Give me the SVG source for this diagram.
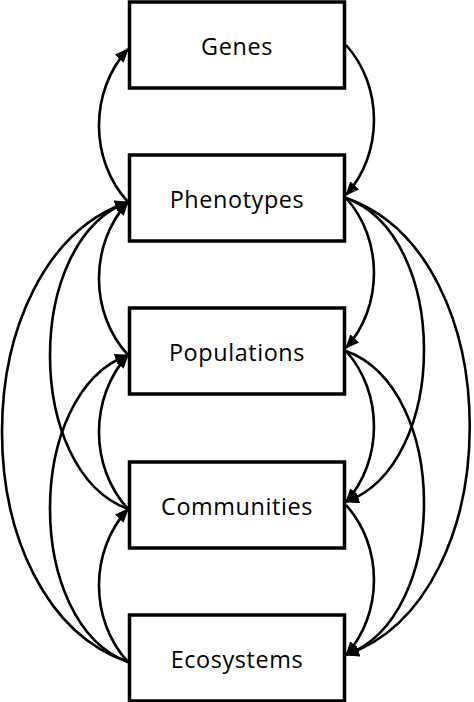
<svg xmlns="http://www.w3.org/2000/svg" width="474" height="702" viewBox="0 0 474 702">
<style>
  .box { fill: #ffffff; stroke: #000000; stroke-width: 3.5; }
  .lbl { font-family: "Open Sans", "Noto Sans", "Liberation Sans", sans-serif; font-size: 23.4px; letter-spacing: 0.6px; fill: #000000; text-anchor: middle; }
  .con { fill: none; stroke: #000000; stroke-width: 2.6; marker-end: url(#arrow); }
</style>
<defs>
  <marker id="arrow" markerUnits="userSpaceOnUse" markerWidth="14" markerHeight="12" viewBox="0 0 14 12" refX="13" refY="6" orient="auto">
    <path d="M0,0 L14,6 L0,12 z" fill="#000000"/>
  </marker>
</defs>
<rect width="474" height="702" fill="#ffffff"/>
<g id="connectors">
  <path class="con" d="M128,202 C89.3,159.9 89.3,91.1 128,49"/>
  <path class="con" d="M128,355 C89.3,312.9 89.3,244.1 128,202"/>
  <path class="con" d="M128,509 C89.3,466.7 89.3,397.3 128,355"/>
  <path class="con" d="M128,662 C89.3,619.9 89.3,551.1 128,509"/>
  <path class="con" d="M128,509 C24,470.6 24,240.4 128,202"/>
  <path class="con" d="M128,662 C24,623.6 24,393.4 128,355"/>
  <path class="con" d="M128,662 C-40,604.5 -40,259.5 128,202"/>
  <path class="con" d="M346,45 C383.3,86.25 383.3,153.75 346,195"/>
  <path class="con" d="M346,198 C383.3,239.25 383.3,306.75 346,348"/>
  <path class="con" d="M346,351 C383.3,392.5 383.3,460.5 346,502"/>
  <path class="con" d="M346,505 C383.3,546.25 383.3,613.75 346,655"/>
  <path class="con" d="M346,198 C450,236 450,464 346,502"/>
  <path class="con" d="M346,351 C450,389 450,617 346,655"/>
  <path class="con" d="M346,198 C511,255.1 511,597.9 346,655"/>
</g>
<g id="genes">
  <rect class="box" x="129.5" y="2" width="215" height="86"/>
  <text class="lbl" x="237" y="54.5">Genes</text>
</g>
<g id="phenotypes">
  <rect class="box" x="129.5" y="155" width="215" height="86"/>
  <text class="lbl" x="237" y="207.5">Phenotypes</text>
</g>
<g id="populations">
  <rect class="box" x="129.5" y="308" width="215" height="86"/>
  <text class="lbl" x="237" y="360.5">Populations</text>
</g>
<g id="communities">
  <rect class="box" x="129.5" y="462" width="215" height="86"/>
  <text class="lbl" x="237" y="514.5">Communities</text>
</g>
<g id="ecosystems">
  <rect class="box" x="129.5" y="615" width="215" height="86"/>
  <text class="lbl" x="237" y="667.5">Ecosystems</text>
</g>
</svg>
